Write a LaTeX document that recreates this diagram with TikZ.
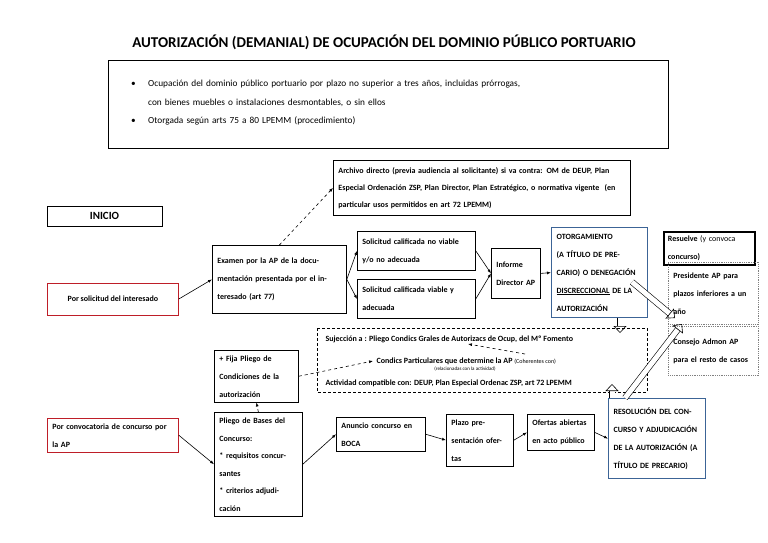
\documentclass[tikz,border=0pt]{standalone}
\usepackage{fontspec}
\setmainfont{Carlito}
\usetikzlibrary{arrows.meta}
\definecolor{bblue}{RGB}{60,100,150}
\definecolor{rred}{RGB}{190,30,40}
\tikzset{
 bx/.style={draw,line width=0.8pt,align=left,anchor=north west,inner sep=5pt,font=\bfseries\fontsize{8}{18}\selectfont},
 ar/.style={-{Latex[length=4pt,width=3pt]},line width=0.6pt},
 dar/.style={ar,dashed},
 big/.style={double,double distance=5pt,line width=0.6pt,-{Triangle[open,length=7pt,width=13pt]}},
}
\begin{document}
\begin{tikzpicture}[x=1pt,y=-1pt]
\useasboundingbox (0,0) rectangle (768,543);
\node (title) at (384,42) {\bfseries\fontsize{15}{18}\selectfont AUTORIZACIÓN (DEMANIAL) DE OCUPACIÓN DEL DOMINIO PÚBLICO PORTUARIO};
\draw[line width=0.8pt] (108,60) rectangle (668,148);
\node[anchor=north west,align=left,text width=500pt,inner sep=0pt,font=\fontsize{9.3}{18.5}\selectfont] (top) at (131,80) {%
\makebox[17pt][l]{•}Ocupación del dominio público portuario por plazo no superior a tres años, incluidas prórrogas,\\
\hspace*{17pt}con bienes muebles o instalaciones desmontables, o sin ellos\\
\makebox[17pt][l]{•}Otorgada según arts 75 a 80 LPEMM (procedimiento)};
\node[draw,line width=1pt,minimum width=115pt,minimum height=20pt,font=\bfseries\fontsize{11}{12}\selectfont] (inicio) at (104.5,216) {INICIO};
\node[bx,draw=rred,minimum width=131pt,minimum height=32pt,anchor=west] (sol) at (47,299) {Por solicitud del interesado};
\node[bx,text width=124pt,minimum height=68pt] (exa) at (212,245) {Examen por la AP de la documentación presentada por el interesado (art 77)};
\node[bx,text width=287pt,minimum height=55pt,font=\bfseries\fontsize{8}{17}\selectfont] (arch) at (333,160) {Archivo directo (previa audiencia al solicitante) si va contra: OM de DEUP, Plan Especial Ordenación ZSP, Plan Director, Plan Estratégico, o normativa vigente \ (en particular usos permitidos en art 72 LPEMM)};
\node[bx,text width=108pt,minimum height=39pt] (nov) at (357,231) {Solicitud calificada no viable y/o no adecuada};
\node[bx,text width=108pt,minimum height=39pt] (via) at (357,279) {Solicitud calificada viable y adecuada};
\node[bx,text width=39pt,minimum height=50pt] (inf) at (491,248) {Informe Director AP};
\node[bx,draw=bblue,line width=1.2pt,text width=86pt,minimum height=90pt] (oto) at (551,227) {OTORGAMIENTO (A TÍTULO DE PRECARIO) O DENEGACIÓN \underline{DISCRECCIONAL} DE LA AUTORIZACIÓN};
\node[bx,line width=1.8pt,text width=83pt,inner sep=4pt,minimum height=31pt] (res) at (663,231) {Resuelve {\mdseries(y convoca} concurso)};
\node[bx,draw=gray,densely dotted,text width=80pt,minimum height=62pt] (pre) at (668,262) {Presidente AP para plazos inferiores a un año};
\node[bx,draw=gray,densely dotted,text width=80pt,minimum height=49pt] (con) at (668,326) {Consejo Admon AP para el resto de casos};
\draw[densely dashed,line width=0.8pt] (317,328) rectangle (647,392);
\node[anchor=west,font=\bfseries\fontsize{8}{9}\selectfont] (suj) at (322,339) {Sujección a : Pliego Condics Grales de Autorizacs de Ocup, del Mº Fomento};
\node[anchor=west,font=\bfseries\fontsize{8}{9}\selectfont] (par) at (373,361) {Condics Particulares que determine la AP {\mdseries\fontsize{6}{6}\selectfont(Coherentes con)}};
\node[font=\fontsize{5}{5}\selectfont] (rel) at (465,369) {(relacionadas con la actividad)};
\node[anchor=west,font=\bfseries\fontsize{8}{9}\selectfont] (act) at (322,383) {Actividad compatible con: DEUP, Plan Especial Ordenac ZSP, art 72 LPEMM};
\node[bx,text width=74pt,minimum height=36pt] (fija) at (214,350) {+ Fija Pliego de Condiciones de la autorización};
\node[bx,draw=rred,text width=121pt,minimum height=24pt] (conv) at (47,418) {Por convocatoria de concurso por la AP};
\node[bx,text width=78pt,minimum height=96pt] (pli) at (214,412) {Pliego de Bases del Concurso:\\[-1pt] * requisitos concursantes\\[-1pt] * criterios adjudicación};
\node[bx,text width=79pt,minimum height=29pt] (anu) at (336,417) {Anuncio concurso en BOCA};
\node[bx,text width=57pt,minimum height=36pt] (pla) at (446,414) {Plazo presentación ofertas};
\node[bx,text width=57pt,minimum height=36pt] (ofe) at (527,414) {Ofertas abiertas en acto público};
\node[bx,draw=bblue,line width=1.2pt,text width=87pt,minimum height=80pt] (rso) at (608,398) {RESOLUCIÓN DEL CONCURSO Y ADJUDICACIÓN DE LA AUTORIZACIÓN (A TÍTULO DE PRECARIO)};
% connectors
\draw[ar] (sol.east) -- (exa.west);
\draw[dar] (exa.north) -- (arch.west);
\draw[ar] (exa.east) -- (nov.west);
\draw[ar] (exa.east) -- (via.west);
\draw[ar] (nov.east) -- (inf.west);
\draw[ar] (via.east) -- (inf.west);
\draw[ar] (inf.east) -- (oto.west);
\draw[ar] (conv.east) -- (pli.west);
\draw[ar] (pli.east) -- (anu.west);
\draw[ar] (anu.east) -- (pla.west);
\draw[ar] (pla.east) -- (ofe.west);
\draw[ar] (ofe.east) -- (rso.west);
\draw[dar] (pli.north) -- (fija.south);
\draw[dar] (fija.east) -- (par.west);
\coordinate (s1) at (525,354); \coordinate (s2) at (468,344);
\draw[dar] (s1) -- (s2);
\coordinate (a1) at (620,318); \coordinate (a2) at (620,333);
\draw[big] (a1) -- (a2);
\coordinate (b1) at (632,282); \coordinate (b2) at (675,318);
\draw[big] (b1) -- (b2);
\coordinate (c1) at (612,398); \coordinate (c2) at (612,384);
\draw[big] (c1) -- (c2);
\coordinate (d1) at (625,398); \coordinate (d2) at (682,324);
\draw[big] (d1) -- (d2);
\end{tikzpicture}
\end{document}
